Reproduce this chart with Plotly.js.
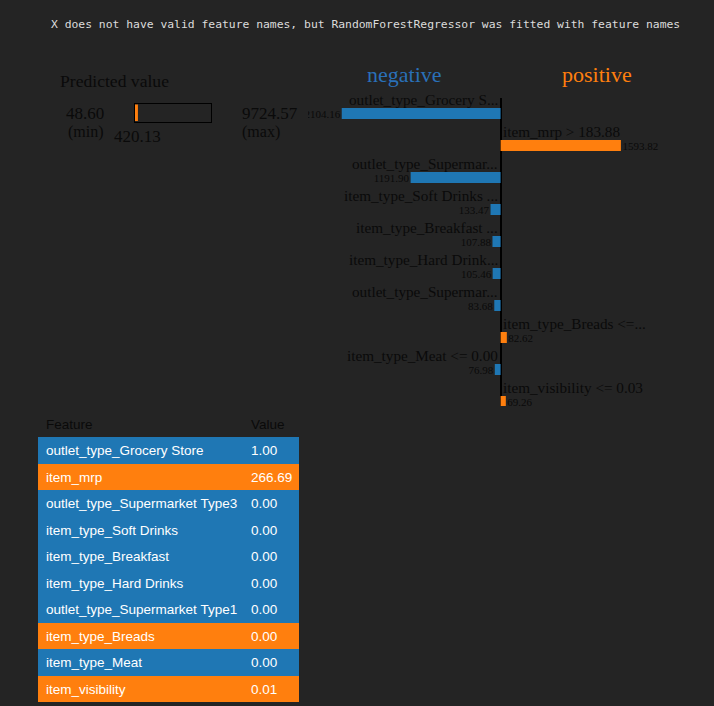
<!DOCTYPE html>
<html>
<head>
<meta charset="utf-8">
<script src="https://cdn.plot.ly/plotly-3.0.1.min.js"></script>
<style>html,body{margin:0;padding:0;background:#242424;overflow:hidden}</style>
</head>
<body>
<div id="chart" style="width:714px;height:706px"></div>
<script>
const warningText = "X does not have valid feature names, but RandomForestRegressor was fitted with feature names";
const predMin = 48.60;
const predMax = 9724.57;
const predValue = 420.13;
const barLabels = ["outlet_type_Grocery S...", "item_mrp > 183.88", "outlet_type_Supermar...", "item_type_Soft Drinks ...", "item_type_Breakfast ...", "item_type_Hard Drink...", "outlet_type_Supermar...", "item_type_Breads <=...", "item_type_Meat <= 0.00", "item_visibility <= 0.03"];
const barValues = [-2104.16, 1593.82, -1191.90, -133.47, -107.88, -105.46, -83.68, 82.62, -76.98, 69.26];
const tableFeatures = ["outlet_type_Grocery Store", "item_mrp", "outlet_type_Supermarket Type3", "item_type_Soft Drinks", "item_type_Breakfast", "item_type_Hard Drinks", "outlet_type_Supermarket Type1", "item_type_Breads", "item_type_Meat", "item_visibility"];
const tableValues = ["1.00", "266.69", "0.00", "0.00", "0.00", "0.00", "0.00", "0.00", "0.00", "0.01"];

const W = 714, H = 706;
const BLUE = "#1f77b4", ORANGE = "#ff7f0e", BG = "#242424", INK = "#0a0a0a", TITLE_BLUE = "#2a70b8";
const SERIF = "'Liberation Serif', serif";
const SANS = "'Liberation Sans', Arial, sans-serif";
const px = x => x / W;
const py = y => 1 - y / H;
const rows = barValues.map((_, i) => i);
const colors = barValues.map(v => v < 0 ? BLUE : ORANGE);

const scale = 0.0755, zeroPx = 500.6, leftPx = 308, rightPx = 690;
const xRange = [(leftPx - zeroPx) / scale, (rightPx - zeroPx) / scale];
const topPx = 98, botPx = 406, row0 = 113.5, pitch = 32;
const yRange = [(botPx - row0) / pitch, (topPx - row0) / pitch];

const hidden = {showgrid:false, zeroline:false, showticklabels:false, ticks:"", showline:false, fixedrange:true};
const noWrap = s => s.replace(/ /g, "\u00a0");

const traces = [
  {type:"bar", orientation:"h", x:barValues, y:rows, width:11/pitch, marker:{color:colors, line:{width:0}}, hoverinfo:"skip", xaxis:"x", yaxis:"y"},
  {type:"scatter", mode:"text", x:barValues.map(v => v + Math.sign(v) * 1.5 / scale), y:rows.map(r => r + 0.05), text:barValues.map(v => Math.abs(v).toFixed(2)),
   textposition:barValues.map(v => v < 0 ? "middle left" : "middle right"),
   textfont:{family:SERIF, size:11, color:INK}, cliponaxis:true, hoverinfo:"skip", xaxis:"x", yaxis:"y"},
  {type:"bar", orientation:"h", base:[predMin], x:[predValue - predMin], y:[0], width:0.9, marker:{color:ORANGE, line:{width:0}}, hoverinfo:"skip", xaxis:"x2", yaxis:"y2"},
  {type:"table", domain:{x:[px(38), px(299)], y:[py(703), py(411)]}, columnwidth:[205, 56],
   header:{values:["Feature", "Value"], align:"left", height:26, line:{width:0, color:BG}, fill:{color:BG}, font:{family:SANS, size:13.5, color:INK}},
   cells:{values:[tableFeatures.map(noWrap), tableValues], align:"left", height:26.5, line:{width:0, color:"rgba(0,0,0,0)"},
     fill:{color:[colors, colors]}, font:{family:SANS, size:13.5, color:"#ffffff"}}}
];

const note = (x, y, anchor, text, size, color, family) => ({xref:"paper", yref:"paper", x:px(x), y:py(y), xanchor:anchor, yanchor:"middle", showarrow:false, text, font:{family:family || SERIF, size, color:color || INK}});
const annotations = [
  note(365.5, 24, "center", warningText, 11.37, "#dcdcdc", "'DejaVu Sans Mono', monospace"),
  note(58, 81, "left", "Predicted value", 17.6),
  note(106, 114, "right", predMin.toFixed(2), 17),
  note(106, 132, "right", "(min)", 16),
  note(240, 114, "left", predMax.toFixed(2), 17),
  note(240, 132, "left", "(max)", 16),
  note(137, 136.5, "center", predValue.toFixed(2), 17),
  note(404, 74.5, "center", "negative", 22, TITLE_BLUE),
  note(597, 74.5, "center", "positive", 22, ORANGE)
];
barLabels.forEach((t, i) => {
  const neg = barValues[i] < 0;
  annotations.push({xref:"x", yref:"y", x:0, y:i, xshift:neg ? -1 : 0.4, yshift:14.5, xanchor:neg ? "right" : "left", yanchor:"middle", showarrow:false, text:t.replace(/</g, "&lt;").replace(/>/g, "&gt;"), font:{family:SERIF, size:15.2, color:INK}});
});

const layout = {
  width:W, height:H, margin:{l:0, r:0, t:0, b:0}, paper_bgcolor:BG, plot_bgcolor:"rgba(0,0,0,0)",
  showlegend:false, barmode:"overlay", annotations,
  xaxis:Object.assign({}, hidden, {domain:[px(leftPx), px(rightPx)], range:xRange, zeroline:true, zerolinecolor:"#000000", zerolinewidth:2, anchor:"y"}),
  yaxis:Object.assign({}, hidden, {domain:[py(botPx), py(topPx)], range:yRange, anchor:"x"}),
  xaxis2:Object.assign({}, hidden, {domain:[px(135), px(211)], range:[predMin, predMax], anchor:"y2", showline:true, mirror:true, linecolor:"#000000", linewidth:1}),
  yaxis2:Object.assign({}, hidden, {domain:[py(122), py(103.5)], range:[-0.5, 0.5], anchor:"x2", showline:true, mirror:true, linecolor:"#000000", linewidth:1})
};
Plotly.newPlot("chart", traces, layout, {displayModeBar:false, staticPlot:true});
</script>
</body>
</html>
